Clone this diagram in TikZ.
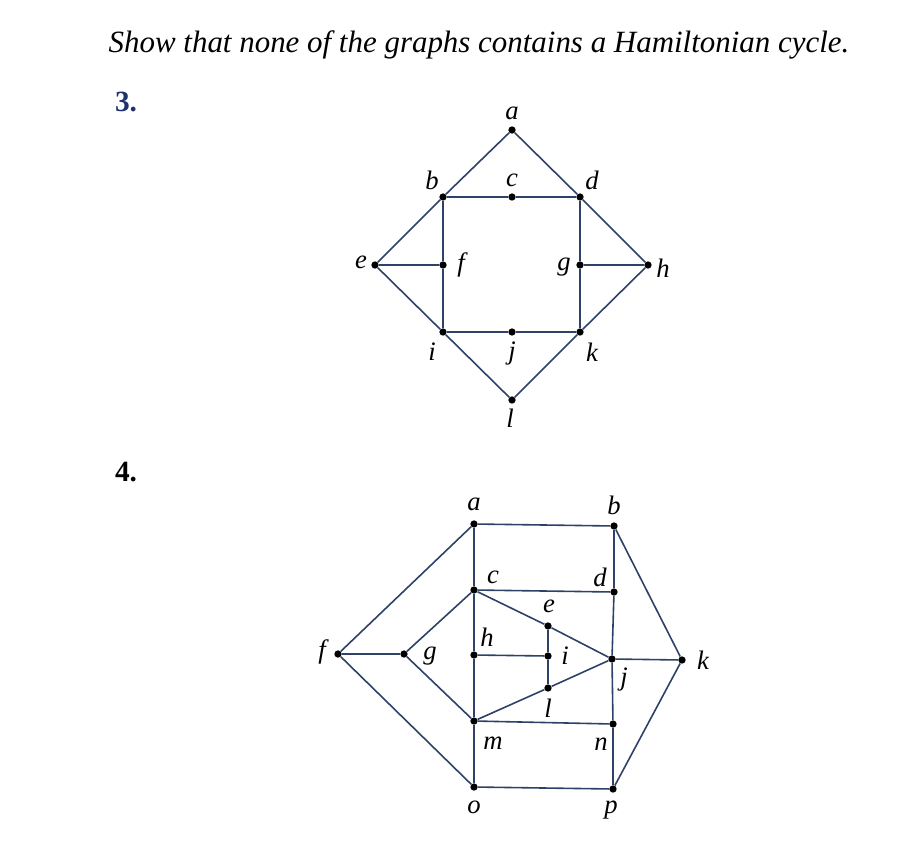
\documentclass[tikz,border=0pt]{standalone}
\usepackage{fontspec}
\setmainfont{Liberation Serif}
\begin{document}
\begin{tikzpicture}[x=0.75pt,y=-0.75pt,
  edge/.style={draw=lc,line width=1.2pt},
  v/.style={circle,fill=black,inner sep=0pt,minimum size=5.5pt},
  lab/.style={font=\fontsize{20}{24}\selectfont\itshape}]
\definecolor{lc}{RGB}{45,65,105}
\definecolor{nc}{RGB}{30,50,110}
\useasboundingbox (0,0) rectangle (899,850);
\node[font=\fontsize{23.2}{28}\selectfont\itshape] (t) at (479,45) {Show that none of the graphs contains a Hamiltonian cycle.};
\node[font=\fontsize{22}{26}\selectfont\bfseries,text=nc] (n3) at (126,102) {3.};
\node[font=\fontsize{22}{26}\selectfont\bfseries] (n4) at (126,472) {4.};
% graph 3
\foreach \n/\x/\y in {a/512/130,b/443/197,c/512/197,d/580/197,e/375/265,f/443/265,g/580/265,h/648/265,i/443/332,j/512/332,k/580/332,l/512/400}
  \node[v] (\n) at (\x,\y) {};
\foreach \u/\w in {a/b,a/d,b/c,c/d,b/e,e/i,e/f,b/f,f/i,i/j,j/k,i/l,l/k,d/h,h/k,g/h,d/g,g/k}
  \draw[edge] (\u) -- (\w);
\node[lab] (la) at (512,113) {a};
\node[lab] (lb) at (432,180) {b};
\node[lab] (lc3) at (512,180) {c};
\node[lab] (ld) at (592,180) {d};
\node[lab] (le) at (361,262) {e};
\node[lab] (lf) at (461,265) {f};
\node[lab] (lg) at (564,267) {g};
\node[lab] (lh) at (663,268) {h};
\node[lab] (li) at (432,352) {i};
\node[lab] (lj) at (512,354) {j};
\node[lab] (lk) at (592,352) {k};
\node[lab] (ll) at (510,418) {l};
% graph 4
\foreach \n/\x/\y in {A/474/524,B/614/526,C/474/590,D/614/592,E/548/626,F/338/654,G/404/654,H/474/655,I/548/656,J/612/659,K/682/660,L/548/688,M/474/721,N/613/724,O/474/787,P/613/789}
  \node[v] (\n) at (\x,\y) {};
\foreach \u/\w in {A/B,A/C,C/H,H/M,M/O,O/P,B/D,D/J,J/N,N/P,B/K,K/P,J/K,C/D,C/E,E/J,E/I,I/L,H/I,L/J,M/L,M/N,F/A,F/G,F/O,G/C,G/M}
  \draw[edge] (\u) -- (\w);
\node[lab] (lA) at (474,504) {a};
\node[lab] (lB) at (614,505) {b};
\node[lab] (lC) at (493,577) {c};
\node[lab] (lD) at (600,577) {d};
\node[lab] (lE) at (549,606) {e};
\node[lab] (lF) at (322,652) {f};
\node[lab] (lG) at (430,656) {g};
\node[lab] (lH) at (487,637) {h};
\node[lab] (lI) at (565,656) {i};
\node[lab] (lJ) at (624,679) {j};
\node[lab] (lK) at (703,660) {k};
\node[lab] (lL) at (548,708) {l};
\node[lab] (lM) at (493,743) {m};
\node[lab] (lN) at (601,744) {n};
\node[lab] (lO) at (474,807) {o};
\node[lab] (lP) at (611,810) {p};
\end{tikzpicture}
\end{document}
